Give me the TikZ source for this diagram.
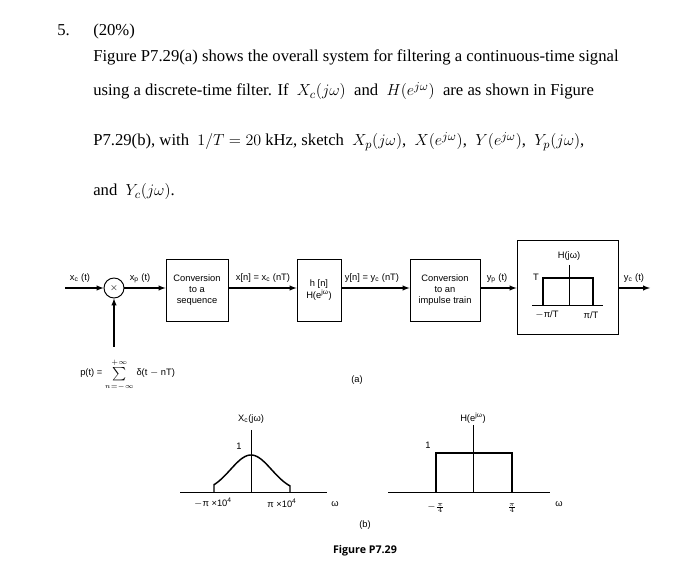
\documentclass[tikz,border=0pt]{standalone}
\usepackage{fontspec}
\setmainfont{Liberation Serif}
\newfontfamily\dsans{Liberation Sans}
\newfontfamily\fsans{Open Sans}
\begin{document}
\begin{tikzpicture}[x=0.75pt,y=-0.75pt,
  txt/.style={anchor=base west,inner sep=0,font=\fontsize{12.5}{14}\selectfont},
  lab/.style={inner sep=0,font=\dsans\fontsize{7}{8}\selectfont},
  blk/.style={draw,line width=0.7pt,inner sep=0,font=\dsans\fontsize{7}{8}\selectfont,align=center},
  ar/.style={-latex,line width=0.8pt},
  ln/.style={line width=0.5pt},
  thk/.style={line width=1.1pt}]
\useasboundingbox (0,0) rectangle (700,584);
% text
\node[txt] (n5) at (57,36) {5.};
\node[txt] (p20) at (93,36) {(20\%)};
\node[txt] (l1) at (93,62) {Figure P7.29(a) shows the overall system for filtering a continuous-time signal};
\node[txt] (l2) at (93,96) {using a discrete-time filter. If\ \ $X_c\big(j\omega\big)$\ \ and\ \ $H\big(e^{j\omega}\big)$\ \ are as shown in Figure};
\node[txt] (l3) at (93,146) {P7.29(b), with\ \ $1/T=20$ kHz, sketch\ \ $X_p\big(j\omega\big)$,\ \ $X\big(e^{j\omega}\big)$,\ \ $Y\big(e^{j\omega}\big)$,\ \ $Y_p\big(j\omega\big)$,};
\node[txt] (l4) at (93,196) {and\ \ $Y_c\big(j\omega\big)$.};
% block diagram
\coordinate (in) at (65,288);
\node[draw,circle,minimum size=15pt,inner sep=0,line width=0.7pt,font=\dsans\fontsize{7}{8}\selectfont] (mul) at (114,288) {$\times$};
\node[blk,minimum width=46.5pt,minimum height=46.5pt] (b1) at (197,290) {Conversion\\to a\\sequence};
\node[blk,minimum width=33pt,minimum height=46.5pt] (b2) at (319,290) {h [n]\\H(e\textsuperscript{jω})};
\node[blk,minimum width=52.5pt,minimum height=46.5pt] (b3) at (445,290) {Conversion\\to an\\impulse train};
\node[draw,line width=0.7pt,minimum width=75.75pt,minimum height=70.5pt,inner sep=0] (b4) at (567.5,287) {};
\coordinate (out) at (650,288);
\coordinate (pt) at (114,347);
\draw[ar] (in) -- (mul);
\draw[ar] (mul) -- (b1.west|-mul);
\draw[ar] (b1.east|-mul) -- (b2.west|-mul);
\draw[ar] (b2.east|-mul) -- (b3.west|-mul);
\draw[ar] (b3.east|-mul) -- (b4.west|-mul);
\draw[ar] (b4.east|-mul) -- (out);
\draw[ar] (pt) -- (mul);
\node[lab] (lxc) at (80,278) {x\textsubscript{c} (t)};
\node[lab] (lxp) at (140,278) {x\textsubscript{p} (t)};
\node[lab] (lxn) at (263,278) {x[n] = x\textsubscript{c} (nT)};
\node[lab] (lyn) at (372,278) {y[n] = y\textsubscript{c} (nT)};
\node[lab] (lyp) at (497,278) {y\textsubscript{p} (t)};
\node[lab] (lyc) at (634,278) {y\textsubscript{c} (t)};
\node[lab,anchor=west] (lp) at (80,375) {p(t) = $\scriptstyle\sum\limits_{n=-\infty}^{+\infty}$ δ(t $-$ nT)};
\node[lab] (la) at (357,380) {(a)};
% inner filter
\draw[ln] (532,305) -- (603,305);
\draw[ln] (569,265) -- (569,305);
\draw[thk] (543,305) -- (543,278) -- (593,278) -- (593,305);
\node[lab] (lT) at (536,277) {T};
\node[lab] (lHj) at (569,256) {H(jω)};
\node[lab] (lmp) at (547,315) {$-$π/T};
\node[lab] (lpp) at (591,315) {π/T};
% bottom left
\draw[ln] (180,492) -- (327,492);
\draw[ln] (251,430) -- (251,492);
\draw[thk] (214,492) -- (214,484) plot[domain=214:290,samples=60] (\x,{492-37*exp(-((\x-251)/29)^2)}) -- (290,492);
\node[lab] (lX) at (251,419) {X\textsubscript{c}(jω)};
\node[lab] (l1a) at (239,446) {1};
\node[lab] (lm4) at (213,503) {$-$π ×10\textsuperscript{4}};
\node[lab] (lp4) at (282,503) {π ×10\textsuperscript{4}};
\node[lab] (lw1) at (335,504) {ω};
% bottom right
\draw[ln] (388,492) -- (550,492);
\draw[ln] (473,425) -- (473,492);
\draw[thk] (436,492) -- (436,453) -- (512,453) -- (512,492);
\node[lab] (lH) at (473,418) {H(e\textsuperscript{jω})};
\node[lab] (l1b) at (428,445) {1};
\node[lab] (lm) at (436,508) {$-\frac{\pi}{4}$};
\node[lab] (lpq) at (512,508) {$\frac{\pi}{4}$};
\node[lab] (lw2) at (559,504) {ω};
\node[lab] (lb) at (365,525) {(b)};
\node[inner sep=0,font=\fsans\bfseries\fontsize{8}{9}\selectfont] (fig) at (365,551) {Figure P7.29};
\end{tikzpicture}
\end{document}
